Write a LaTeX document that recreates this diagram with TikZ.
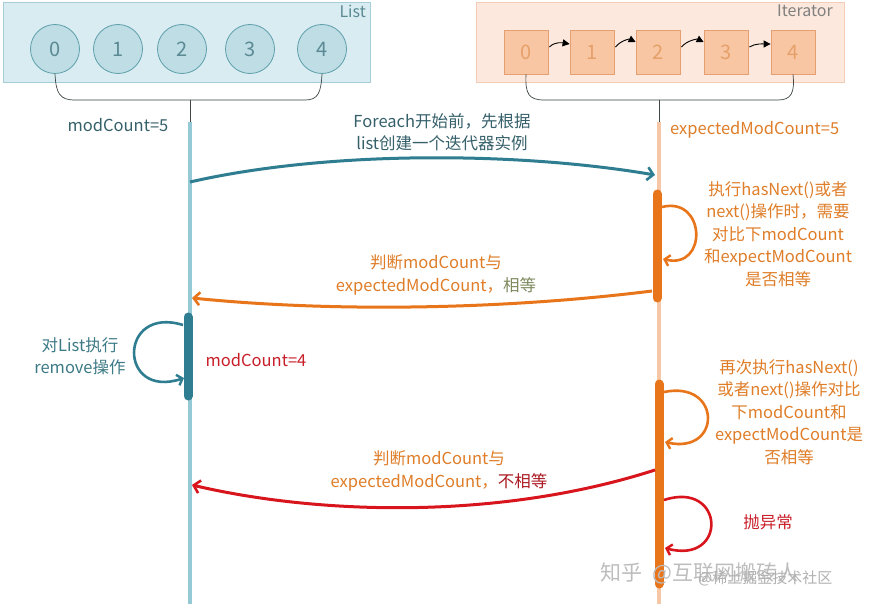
\documentclass[tikz,border=0pt]{standalone}
\usepackage{fontspec}
\setmainfont{Noto Sans CJK SC}
\usetikzlibrary{arrows.meta}
\definecolor{listfill}{HTML}{D8ECF1}
\definecolor{listdraw}{HTML}{A6CDD8}
\definecolor{circfill}{HTML}{BEDDE5}
\definecolor{circdraw}{HTML}{5F9FAC}
\definecolor{circtext}{HTML}{5B8A94}
\definecolor{itfill}{HTML}{FCE8DC}
\definecolor{itdraw}{HTML}{F3CDB6}
\definecolor{sqfill}{HTML}{F8C6A2}
\definecolor{sqdraw}{HTML}{E4A070}
\definecolor{sqtext}{HTML}{E6A06A}
\definecolor{teal}{HTML}{2E7D90}
\definecolor{tealtext}{HTML}{3C7A86}
\definecolor{darktext}{HTML}{35606A}
\definecolor{orng}{HTML}{E8751A}
\definecolor{orngtext}{HTML}{DF7D28}
\definecolor{blueline}{HTML}{96C9D6}
\definecolor{orngline}{HTML}{F6C7A6}
\definecolor{redline}{HTML}{D8141C}
\definecolor{redtext}{HTML}{C91E28}
\definecolor{olive}{HTML}{7D8A5E}
\definecolor{brace}{HTML}{3E4646}
\definecolor{wm}{HTML}{BDBDBD}
\tikzset{
  txt/.style={font=\fontsize{16.5}{22.5}\selectfont, align=center, inner sep=0pt},
  circ/.style={circle, draw=circdraw, fill=circfill, line width=0.8pt, minimum size=49pt, inner sep=0pt, text=circtext, font=\fontsize{20}{20}\selectfont},
  sq/.style={rectangle, draw=sqdraw, fill=sqfill, line width=0.8pt, minimum size=44pt, inner sep=0pt, text=sqtext, font=\fontsize{20}{20}\selectfont},
  bracel/.style={draw=brace, line width=0.7pt},
  msg/.style={line width=3pt, -{Straight Barb[length=6pt,width=13pt,line width=2.6pt]}},
  loopa/.style={line width=2.6pt, -{Straight Barb[length=5pt,width=11pt,line width=2.4pt]}},
  bar/.style={line width=9pt, line cap=round},
  link/.style={draw=black, line width=0.9pt, -{Triangle[length=7pt,width=7pt]}}
}
\begin{document}
\begin{tikzpicture}[x=1pt,y=-1pt]
\useasboundingbox (0,0) rectangle (876,604);
\fill[white] (0,0) rectangle (876,604);
% List box
\node[draw=listdraw, fill=listfill, line width=0.8pt, minimum width=367pt, minimum height=80pt, inner sep=0pt] (listbox) at (186.5,42) {};
\node[txt, text=circtext, font=\fontsize{16}{16}\selectfont, anchor=north east] (listlbl) at (366,5) {List};
\node[circ] (c0) at (55,49) {0};
\node[circ] (c1) at (118,49) {1};
\node[circ] (c2) at (182,49) {2};
\node[circ] (c3) at (250,49) {3};
\node[circ] (c4) at (322,49) {4};
% Iterator box
\node[draw=itdraw, fill=itfill, line width=0.8pt, minimum width=368pt, minimum height=80pt, inner sep=0pt] (itbox) at (660,42) {};
\node[txt, text=gray, font=\fontsize{16}{16}\selectfont, anchor=north east] (itlbl) at (833,5) {Iterator};
\node[sq] (s0) at (526,52) {0};
\node[sq] (s1) at (592,52) {1};
\node[sq] (s2) at (658,52) {2};
\node[sq] (s3) at (726,52) {3};
\node[sq] (s4) at (793,52) {4};
\draw[link] ([yshift=5pt,xshift=1pt]s0.east) .. controls +(6,-6) and +(-6,-1) .. ([yshift=8pt]s1.west);
\draw[link] ([yshift=5pt,xshift=1pt]s1.east) .. controls +(6,-7) and +(-6,-3) .. ([yshift=10pt]s2.west);
\draw[link] ([yshift=5pt,xshift=1pt]s2.east) .. controls +(6,-7) and +(-6,-3) .. ([yshift=10pt]s3.west);
\draw[link] ([yshift=5pt,xshift=1pt]s3.east) .. controls +(6,-4) and +(-6,0) .. ([yshift=8pt]s4.west);
% braces
\coordinate (lb) at (190,100);
\coordinate (ib) at (659,100);
\draw[bracel] (c0.south) .. controls (56,94) and (60,100) .. (75,100) -- (305,100) .. controls (318,100) and (321,93) .. (c4.south);
\draw[bracel] (s0.south) .. controls (525,94) and (529,100) .. (544,100) -- (778,100) .. controls (791,100) and (795,93) .. (s4.south);
% lifelines
\coordinate (lt) at (190,122);
\coordinate (lbot) at (190,604);
\coordinate (it) at (659,122);
\coordinate (ibot) at (659,604);
\draw[blueline, line width=4.5pt] (lt) -- (lbot);
\draw[orngline, line width=4.5pt] (it) -- (ibot);
\draw[brace, line width=0.8pt] (lb) -- (lt);
\draw[brace, line width=0.8pt] (ib) -- (it);
% labels on lifelines
\node[txt, text=darktext] (mc5) at (118,125) {modCount=5};
\node[txt, text=orngtext, anchor=west] (emc5) at (670,130) {expectedModCount=5};
% message 1
\node[txt, text=darktext] (m1) at (442,132) {Foreach开始前，先根据\\list创建一个迭代器实例};
\coordinate (m1s) at (190,182);
\coordinate (m1e) at (655,175);
\draw[teal, msg] (m1s) .. controls (330,150) and (520,152) .. (m1e);
% activation bar 1
\coordinate (b1t) at (657,194);
\coordinate (b1b) at (657,298);
\draw[orng, bar] (b1t) -- (b1b);
\coordinate (l1s) at (662,207);
\coordinate (l1e) at (663,259);
\draw[orng, loopa] (l1s) .. controls (706,196) and (708,270) .. (l1e);
\node[txt, text=orngtext] (t1) at (778,234) {执行hasNext()或者\\next()操作时，需要\\对比下modCount\\和expectModCount\\是否相等};
% message 2
\coordinate (m2s) at (652,291);
\coordinate (m2e) at (192,298);
\draw[orng, msg] (m2s) .. controls (500,310) and (330,312) .. (m2e);
\node[txt, text=orngtext] (m2) at (436,275) {判断modCount与\\expectedModCount，\textcolor{olive}{相等}};
% list activation bar
\coordinate (b2t) at (188,317);
\coordinate (b2b) at (188,396);
\draw[teal, bar] (b2t) -- (b2b);
\coordinate (l2s) at (183,325);
\coordinate (l2e) at (184,378);
\draw[teal, loopa] (l2s) .. controls (118,305) and (118,400) .. (l2e);
\node[txt, text=tealtext] (t2) at (80,356) {对List执行\\remove操作};
\node[txt, text=redtext] (mc4) at (256,360) {modCount=4};
% activation bar 3
\coordinate (b3t) at (659,384);
\coordinate (b3b) at (659,584);
\draw[orng, bar] (b3t) -- (b3b);
\coordinate (l3s) at (664,392);
\coordinate (l3e) at (665,442);
\draw[orng, loopa] (l3s) .. controls (722,380) and (722,455) .. (l3e);
\node[txt, text=orngtext] (t3) at (789,412) {再次执行hasNext()\\或者next()操作对比\\下modCount和\\expectModCount是\\否相等};
% message 3
\coordinate (m3s) at (655,470);
\coordinate (m3e) at (192,485);
\draw[redline, msg] (m3s) .. controls (500,520) and (320,515) .. (m3e);
\node[txt, text=orngtext] (m3) at (439,471) {判断modCount与\\expectedModCount，\textcolor{redtext!85!black}{不相等}};
% red self loop
\coordinate (l4s) at (664,500);
\coordinate (l4e) at (665,548);
\draw[redline, loopa] (l4s) .. controls (725,480) and (728,565) .. (l4e);
\node[txt, text=redtext] (t4) at (768,522) {抛异常};
% watermark
\node[txt, text=wm, font=\fontsize{21}{21}\selectfont, anchor=west] (wm1) at (600,573) {知乎\hspace{0.5em}@互联网搬砖人};
\node[txt, text=wm!80!gray, font=\fontsize{15}{15}\selectfont, anchor=west] (wm2) at (698,578) {@稀土掘金技术社区};
\end{tikzpicture}
\end{document}
